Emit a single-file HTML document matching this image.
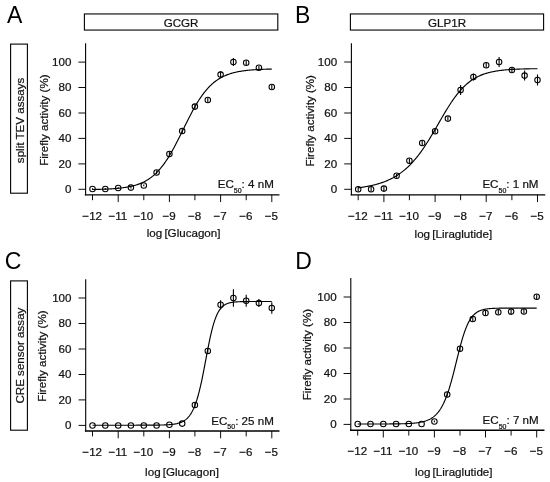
<!DOCTYPE html>
<html><head><meta charset="utf-8"><title>Figure</title>
<style>
html,body{margin:0;padding:0;background:#fff;}
svg{display:block;}
text{font-family:"Liberation Sans",Arial,Helvetica,sans-serif;fill:#111;stroke:#111;stroke-width:0.22;}
.t{font-size:11.6px;}
.pl{font-size:23px;fill:#000;stroke:none;}
.sub{font-size:7px;}
.ax{stroke:#000;stroke-width:1.1;fill:none;stroke-linecap:square;}
.tk{stroke:#000;stroke-width:0.95;fill:none;}
.cv{stroke:#000;stroke-width:1.15;fill:none;}
.pt{stroke:#000;stroke-width:1.05;fill:none;}
.eb{stroke:#000;stroke-width:1.1;fill:none;}
.bx{stroke:#000;stroke-width:1.1;fill:#fff;}
</style></head><body>

<svg width="550" height="482" viewBox="0 0 550 482">
<rect x="0" y="0" width="550" height="482" fill="#fff"/>
<text class="pl" x="6.9" y="23.0">A</text>
<text class="pl" x="295.1" y="23.1">B</text>
<text class="pl" x="4.8" y="268.8">C</text>
<text class="pl" x="295.2" y="268.8">D</text>
<rect class="bx" x="84.4" y="13.95" width="193.4" height="16.1"/>
<text class="t" x="181.1" y="27" text-anchor="middle">GCGR</text>
<rect class="bx" x="350.4" y="13.95" width="193.2" height="16.1"/>
<text class="t" x="447.0" y="27" text-anchor="middle">GLP1R</text>
<rect class="bx" x="10.6" y="44.1" width="16.8" height="149.1"/>
<text class="t" transform="translate(23.6,120.4) rotate(-90)" text-anchor="middle">split TEV assays</text>
<rect class="bx" x="10.6" y="280.9" width="16.8" height="149.3"/>
<text class="t" transform="translate(23.6,355.6) rotate(-90)" text-anchor="middle">CRE sensor assay</text>
<path class="ax" d="M85.60 43.70V194.80"/>
<path class="ax" style="stroke-width:1.35" d="M85.50 194.80H278.80"/>
<path class="tk" d="M78.4 189.3H85.6M78.4 163.9H85.6M78.4 138.4H85.6M78.4 113.0H85.6M78.4 87.5H85.6M78.4 62.1H85.6M92.5 194.8V200.2M118.2 194.8V202.1M143.8 194.8V200.2M169.4 194.8V202.1M194.9 194.8V200.2M220.6 194.8V202.1M246.2 194.8V200.2M271.8 194.8V202.1"/>
<text class="t" x="71.4" y="193.2" text-anchor="end">0</text>
<text class="t" x="71.4" y="167.8" text-anchor="end">20</text>
<text class="t" x="71.4" y="142.3" text-anchor="end">40</text>
<text class="t" x="71.4" y="116.9" text-anchor="end">60</text>
<text class="t" x="71.4" y="91.4" text-anchor="end">80</text>
<text class="t" x="71.4" y="66.0" text-anchor="end">100</text>
<text class="t" x="92.2" y="219.6" text-anchor="middle">−12</text>
<text class="t" x="117.9" y="219.6" text-anchor="middle">−11</text>
<text class="t" x="143.4" y="219.6" text-anchor="middle">−10</text>
<text class="t" x="169.1" y="219.6" text-anchor="middle">−9</text>
<text class="t" x="194.6" y="219.6" text-anchor="middle">−8</text>
<text class="t" x="220.2" y="219.6" text-anchor="middle">−7</text>
<text class="t" x="245.9" y="219.6" text-anchor="middle">−6</text>
<text class="t" x="271.4" y="219.6" text-anchor="middle">−5</text>
<text class="t" style="word-spacing:-1px" x="183.6" y="237.3" text-anchor="middle">log [Glucagon]</text>
<text class="t" transform="translate(48.2,120.1) rotate(-90)" text-anchor="middle">Firefly activity (%)</text>
<text class="t" x="273.8" y="188.4" text-anchor="end">EC<tspan class="sub" dy="4.3">50</tspan><tspan dy="-4.3">: 4 nM</tspan></text>
<path class="cv" d="M92.55 189.49 L93.19 189.48 L93.83 189.47 L94.47 189.45 L95.11 189.44 L95.75 189.43 L96.39 189.41 L97.03 189.40 L97.67 189.38 L98.31 189.37 L98.95 189.35 L99.59 189.33 L100.23 189.31 L100.87 189.29 L101.51 189.27 L102.15 189.25 L102.79 189.23 L103.43 189.21 L104.07 189.19 L104.71 189.16 L105.35 189.14 L105.99 189.11 L106.63 189.08 L107.27 189.05 L107.91 189.02 L108.55 188.99 L109.19 188.96 L109.83 188.92 L110.47 188.88 L111.11 188.85 L111.75 188.81 L112.39 188.76 L113.03 188.72 L113.67 188.68 L114.31 188.63 L114.95 188.58 L115.59 188.53 L116.23 188.48 L116.87 188.42 L117.51 188.36 L118.15 188.30 L118.79 188.24 L119.43 188.17 L120.07 188.10 L120.71 188.03 L121.35 187.95 L121.99 187.88 L122.63 187.79 L123.27 187.71 L123.91 187.62 L124.55 187.53 L125.19 187.43 L125.83 187.33 L126.47 187.22 L127.11 187.11 L127.75 187.00 L128.39 186.88 L129.03 186.76 L129.67 186.63 L130.31 186.49 L130.95 186.35 L131.59 186.20 L132.23 186.05 L132.87 185.89 L133.51 185.73 L134.15 185.55 L134.79 185.38 L135.43 185.19 L136.07 184.99 L136.71 184.79 L137.35 184.58 L137.99 184.36 L138.63 184.13 L139.27 183.89 L139.91 183.65 L140.55 183.39 L141.19 183.12 L141.83 182.85 L142.47 182.56 L143.11 182.26 L143.75 181.95 L144.39 181.62 L145.03 181.29 L145.67 180.94 L146.31 180.58 L146.95 180.20 L147.59 179.81 L148.23 179.41 L148.87 178.99 L149.51 178.56 L150.15 178.11 L150.79 177.65 L151.43 177.17 L152.07 176.67 L152.71 176.15 L153.35 175.62 L153.99 175.07 L154.63 174.50 L155.27 173.91 L155.91 173.31 L156.55 172.68 L157.19 172.04 L157.83 171.37 L158.47 170.68 L159.11 169.98 L159.75 169.25 L160.39 168.50 L161.03 167.73 L161.67 166.94 L162.31 166.13 L162.95 165.29 L163.59 164.44 L164.23 163.56 L164.87 162.66 L165.51 161.74 L166.15 160.80 L166.79 159.83 L167.43 158.85 L168.07 157.84 L168.71 156.82 L169.35 155.77 L169.99 154.70 L170.63 153.62 L171.27 152.51 L171.91 151.39 L172.55 150.25 L173.19 149.09 L173.83 147.92 L174.47 146.73 L175.11 145.52 L175.75 144.30 L176.39 143.07 L177.03 141.83 L177.67 140.58 L178.31 139.31 L178.95 138.04 L179.59 136.76 L180.23 135.47 L180.87 134.18 L181.51 132.88 L182.15 131.58 L182.79 130.27 L183.43 128.97 L184.07 127.67 L184.71 126.37 L185.35 125.07 L185.99 123.77 L186.63 122.48 L187.27 121.20 L187.91 119.93 L188.55 118.66 L189.19 117.40 L189.83 116.15 L190.47 114.92 L191.11 113.70 L191.75 112.49 L192.39 111.30 L193.03 110.12 L193.67 108.95 L194.31 107.81 L194.95 106.68 L195.59 105.57 L196.23 104.48 L196.87 103.40 L197.51 102.35 L198.15 101.32 L198.79 100.31 L199.43 99.31 L200.07 98.34 L200.71 97.39 L201.35 96.46 L201.99 95.56 L202.63 94.67 L203.27 93.81 L203.91 92.96 L204.55 92.14 L205.19 91.34 L205.83 90.56 L206.47 89.81 L207.11 89.07 L207.75 88.35 L208.39 87.66 L209.03 86.98 L209.67 86.33 L210.31 85.69 L210.95 85.08 L211.59 84.48 L212.23 83.90 L212.87 83.34 L213.51 82.80 L214.15 82.28 L214.79 81.77 L215.43 81.28 L216.07 80.81 L216.71 80.35 L217.35 79.90 L217.99 79.48 L218.63 79.07 L219.27 78.67 L219.91 78.28 L220.55 77.91 L221.19 77.56 L221.83 77.21 L222.47 76.88 L223.11 76.56 L223.75 76.25 L224.39 75.96 L225.03 75.67 L225.67 75.40 L226.31 75.13 L226.95 74.88 L227.59 74.63 L228.23 74.40 L228.87 74.17 L229.51 73.95 L230.15 73.74 L230.79 73.54 L231.43 73.35 L232.07 73.16 L232.71 72.98 L233.35 72.81 L233.99 72.64 L234.63 72.49 L235.27 72.33 L235.91 72.19 L236.55 72.05 L237.19 71.91 L237.83 71.78 L238.47 71.66 L239.11 71.54 L239.75 71.42 L240.39 71.31 L241.03 71.21 L241.67 71.10 L242.31 71.01 L242.95 70.91 L243.59 70.82 L244.23 70.74 L244.87 70.66 L245.51 70.58 L246.15 70.50 L246.79 70.43 L247.43 70.36 L248.07 70.29 L248.71 70.23 L249.35 70.17 L249.99 70.11 L250.63 70.05 L251.27 70.00 L251.91 69.94 L252.55 69.89 L253.19 69.85 L253.83 69.80 L254.47 69.76 L255.11 69.71 L255.75 69.67 L256.39 69.63 L257.03 69.60 L257.67 69.56 L258.31 69.53 L258.95 69.49 L259.59 69.46 L260.23 69.43 L260.87 69.40 L261.51 69.38 L262.15 69.35 L262.79 69.32 L263.43 69.30 L264.07 69.28 L264.71 69.25 L265.35 69.23 L265.99 69.21 L266.63 69.19 L267.27 69.17 L267.91 69.16 L268.55 69.14 L269.19 69.12 L269.83 69.11 L270.47 69.09 L271.11 69.08 L271.75 69.06"/>
<circle class="pt" cx="92.5" cy="189.0" r="2.75"/>
<path class="eb" d="M92.5 188.2V189.8"/>
<circle class="pt" cx="105.3" cy="189.0" r="2.75"/>
<path class="eb" d="M105.3 188.2V189.8"/>
<circle class="pt" cx="118.2" cy="188.0" r="2.75"/>
<path class="eb" d="M118.2 187.2V188.8"/>
<circle class="pt" cx="130.9" cy="187.6" r="2.75"/>
<path class="eb" d="M130.9 186.8V188.4"/>
<circle class="pt" cx="143.8" cy="185.4" r="2.75"/>
<path class="eb" d="M143.8 184.6V186.2"/>
<circle class="pt" cx="156.6" cy="172.4" r="2.75"/>
<path class="eb" d="M156.6 170.5V174.3"/>
<circle class="pt" cx="169.4" cy="154.0" r="2.75"/>
<path class="eb" d="M169.4 151.6V156.4"/>
<circle class="pt" cx="182.2" cy="131.0" r="2.75"/>
<path class="eb" d="M182.2 128.6V133.4"/>
<circle class="pt" cx="194.9" cy="106.6" r="2.75"/>
<path class="eb" d="M194.9 104.2V109.0"/>
<circle class="pt" cx="207.8" cy="100.0" r="2.75"/>
<path class="eb" d="M207.8 98.1V101.9"/>
<circle class="pt" cx="220.6" cy="74.6" r="2.75"/>
<path class="eb" d="M220.6 71.1V78.1"/>
<circle class="pt" cx="233.4" cy="62.0" r="2.75"/>
<path class="eb" d="M233.4 58.0V66.0"/>
<circle class="pt" cx="246.2" cy="62.8" r="2.75"/>
<path class="eb" d="M246.2 60.4V65.2"/>
<circle class="pt" cx="258.9" cy="67.8" r="2.75"/>
<path class="eb" d="M258.9 65.9V69.7"/>
<circle class="pt" cx="271.8" cy="87.0" r="2.75"/>
<path class="eb" d="M271.8 85.1V88.9"/>
<path class="ax" d="M351.40 43.70V194.80"/>
<path class="ax" style="stroke-width:1.35" d="M351.30 194.80H544.60"/>
<path class="tk" d="M344.2 189.3H351.4M344.2 163.9H351.4M344.2 138.4H351.4M344.2 113.0H351.4M344.2 87.5H351.4M344.2 62.0H351.4M358.2 194.8V200.2M383.9 194.8V202.1M409.4 194.8V200.2M435.1 194.8V202.1M460.6 194.8V200.2M486.2 194.8V202.1M511.9 194.8V200.2M537.5 194.8V202.1"/>
<text class="t" x="337.2" y="193.2" text-anchor="end">0</text>
<text class="t" x="337.2" y="167.8" text-anchor="end">20</text>
<text class="t" x="337.2" y="142.3" text-anchor="end">40</text>
<text class="t" x="337.2" y="116.9" text-anchor="end">60</text>
<text class="t" x="337.2" y="91.4" text-anchor="end">80</text>
<text class="t" x="337.2" y="66.0" text-anchor="end">100</text>
<text class="t" x="357.9" y="219.6" text-anchor="middle">−12</text>
<text class="t" x="383.6" y="219.6" text-anchor="middle">−11</text>
<text class="t" x="409.1" y="219.6" text-anchor="middle">−10</text>
<text class="t" x="434.8" y="219.6" text-anchor="middle">−9</text>
<text class="t" x="460.3" y="219.6" text-anchor="middle">−8</text>
<text class="t" x="485.9" y="219.6" text-anchor="middle">−7</text>
<text class="t" x="511.6" y="219.6" text-anchor="middle">−6</text>
<text class="t" x="537.2" y="219.6" text-anchor="middle">−5</text>
<text class="t" style="word-spacing:-1px" x="453.4" y="237.9" text-anchor="middle">log [Liraglutide]</text>
<text class="t" transform="translate(314.1,120.8) rotate(-90)" text-anchor="middle">Firefly activity (%)</text>
<text class="t" x="538.5" y="188.4" text-anchor="end">EC<tspan class="sub" dy="4.3">50</tspan><tspan dy="-4.3">: 1 nM</tspan></text>
<path class="cv" d="M358.25 187.83 L358.89 187.74 L359.53 187.66 L360.17 187.57 L360.81 187.48 L361.45 187.39 L362.09 187.29 L362.73 187.19 L363.37 187.09 L364.01 186.99 L364.65 186.88 L365.29 186.78 L365.93 186.66 L366.57 186.55 L367.21 186.43 L367.85 186.31 L368.49 186.18 L369.13 186.06 L369.77 185.92 L370.41 185.79 L371.05 185.65 L371.69 185.51 L372.33 185.36 L372.97 185.21 L373.61 185.06 L374.25 184.90 L374.89 184.73 L375.53 184.57 L376.17 184.39 L376.81 184.22 L377.45 184.04 L378.09 183.85 L378.73 183.66 L379.37 183.46 L380.01 183.26 L380.65 183.05 L381.29 182.84 L381.93 182.62 L382.57 182.40 L383.21 182.17 L383.85 181.93 L384.49 181.69 L385.13 181.44 L385.77 181.18 L386.41 180.92 L387.05 180.65 L387.69 180.38 L388.33 180.09 L388.97 179.80 L389.61 179.50 L390.25 179.20 L390.89 178.88 L391.53 178.56 L392.17 178.23 L392.81 177.89 L393.45 177.55 L394.09 177.19 L394.73 176.82 L395.37 176.45 L396.01 176.07 L396.65 175.67 L397.29 175.27 L397.93 174.85 L398.57 174.43 L399.21 174.00 L399.85 173.55 L400.49 173.10 L401.13 172.63 L401.77 172.15 L402.41 171.66 L403.05 171.16 L403.69 170.65 L404.33 170.13 L404.97 169.59 L405.61 169.04 L406.25 168.48 L406.89 167.91 L407.53 167.32 L408.17 166.72 L408.81 166.11 L409.45 165.48 L410.09 164.84 L410.73 164.19 L411.37 163.52 L412.01 162.84 L412.65 162.14 L413.29 161.43 L413.93 160.71 L414.57 159.97 L415.21 159.22 L415.85 158.46 L416.49 157.67 L417.13 156.88 L417.77 156.07 L418.41 155.25 L419.05 154.41 L419.69 153.56 L420.33 152.69 L420.97 151.82 L421.61 150.92 L422.25 150.02 L422.89 149.10 L423.53 148.16 L424.17 147.22 L424.81 146.26 L425.45 145.29 L426.09 144.30 L426.73 143.31 L427.37 142.30 L428.01 141.29 L428.65 140.26 L429.29 139.22 L429.93 138.17 L430.57 137.12 L431.21 136.05 L431.85 134.98 L432.49 133.90 L433.13 132.82 L433.77 131.73 L434.41 130.63 L435.05 129.53 L435.69 128.42 L436.33 127.32 L436.97 126.20 L437.61 125.09 L438.25 123.98 L438.89 122.87 L439.53 121.75 L440.17 120.64 L440.81 119.54 L441.45 118.43 L442.09 117.33 L442.73 116.23 L443.37 115.14 L444.01 114.06 L444.65 112.98 L445.29 111.91 L445.93 110.85 L446.57 109.80 L447.21 108.75 L447.85 107.72 L448.49 106.70 L449.13 105.69 L449.77 104.70 L450.41 103.71 L451.05 102.74 L451.69 101.79 L452.33 100.85 L452.97 99.92 L453.61 99.01 L454.25 98.12 L454.89 97.24 L455.53 96.37 L456.17 95.53 L456.81 94.70 L457.45 93.89 L458.09 93.09 L458.73 92.31 L459.37 91.55 L460.01 90.81 L460.65 90.08 L461.29 89.38 L461.93 88.69 L462.57 88.01 L463.21 87.36 L463.85 86.72 L464.49 86.09 L465.13 85.49 L465.77 84.90 L466.41 84.33 L467.05 83.77 L467.69 83.23 L468.33 82.71 L468.97 82.20 L469.61 81.71 L470.25 81.23 L470.89 80.77 L471.53 80.32 L472.17 79.89 L472.81 79.47 L473.45 79.06 L474.09 78.67 L474.73 78.29 L475.37 77.92 L476.01 77.57 L476.65 77.22 L477.29 76.89 L477.93 76.57 L478.57 76.27 L479.21 75.97 L479.85 75.68 L480.49 75.40 L481.13 75.14 L481.77 74.88 L482.41 74.63 L483.05 74.39 L483.69 74.16 L484.33 73.94 L484.97 73.73 L485.61 73.52 L486.25 73.33 L486.89 73.13 L487.53 72.95 L488.17 72.78 L488.81 72.61 L489.45 72.44 L490.09 72.29 L490.73 72.14 L491.37 71.99 L492.01 71.85 L492.65 71.72 L493.29 71.59 L493.93 71.46 L494.57 71.35 L495.21 71.23 L495.85 71.12 L496.49 71.02 L497.13 70.91 L497.77 70.82 L498.41 70.72 L499.05 70.63 L499.69 70.55 L500.33 70.47 L500.97 70.39 L501.61 70.31 L502.25 70.24 L502.89 70.17 L503.53 70.10 L504.17 70.03 L504.81 69.97 L505.45 69.91 L506.09 69.86 L506.73 69.80 L507.37 69.75 L508.01 69.70 L508.65 69.65 L509.29 69.60 L509.93 69.56 L510.57 69.52 L511.21 69.47 L511.85 69.44 L512.49 69.40 L513.13 69.36 L513.77 69.33 L514.41 69.29 L515.05 69.26 L515.69 69.23 L516.33 69.20 L516.97 69.17 L517.61 69.15 L518.25 69.12 L518.89 69.10 L519.53 69.07 L520.17 69.05 L520.81 69.03 L521.45 69.01 L522.09 68.99 L522.73 68.97 L523.37 68.95 L524.01 68.93 L524.65 68.91 L525.29 68.90 L525.93 68.88 L526.57 68.87 L527.21 68.85 L527.85 68.84 L528.49 68.83 L529.13 68.81 L529.77 68.80 L530.41 68.79 L531.05 68.78 L531.69 68.77 L532.33 68.76 L532.97 68.75 L533.61 68.74 L534.25 68.73 L534.89 68.72 L535.53 68.71 L536.17 68.70 L536.81 68.70 L537.45 68.69"/>
<circle class="pt" cx="358.2" cy="189.2" r="2.75"/>
<path class="eb" d="M358.2 186.8V191.6"/>
<circle class="pt" cx="371.1" cy="189.2" r="2.75"/>
<path class="eb" d="M371.1 186.8V191.6"/>
<circle class="pt" cx="383.9" cy="188.6" r="2.75"/>
<path class="eb" d="M383.9 186.2V191.0"/>
<circle class="pt" cx="396.6" cy="175.8" r="2.75"/>
<path class="eb" d="M396.6 173.9V177.7"/>
<circle class="pt" cx="409.4" cy="160.8" r="2.75"/>
<path class="eb" d="M409.4 158.4V163.2"/>
<circle class="pt" cx="422.2" cy="143.0" r="2.75"/>
<path class="eb" d="M422.2 140.6V145.4"/>
<circle class="pt" cx="435.1" cy="131.2" r="2.75"/>
<path class="eb" d="M435.1 128.8V133.6"/>
<circle class="pt" cx="447.9" cy="118.6" r="2.75"/>
<path class="eb" d="M447.9 116.7V120.5"/>
<circle class="pt" cx="460.6" cy="90.0" r="2.75"/>
<path class="eb" d="M460.6 85.0V95.0"/>
<circle class="pt" cx="473.4" cy="77.0" r="2.75"/>
<path class="eb" d="M473.4 73.5V80.5"/>
<circle class="pt" cx="486.2" cy="65.2" r="2.75"/>
<path class="eb" d="M486.2 62.8V67.6"/>
<circle class="pt" cx="499.1" cy="62.0" r="2.75"/>
<path class="eb" d="M499.1 57.0V67.0"/>
<circle class="pt" cx="511.9" cy="70.0" r="2.75"/>
<path class="eb" d="M511.9 67.6V72.4"/>
<circle class="pt" cx="524.6" cy="75.6" r="2.75"/>
<path class="eb" d="M524.6 70.6V80.6"/>
<circle class="pt" cx="537.5" cy="80.0" r="2.75"/>
<path class="eb" d="M537.5 74.5V85.5"/>
<path class="ax" d="M85.70 279.70V431.00"/>
<path class="ax" style="stroke-width:1.35" d="M85.60 431.00H278.80"/>
<path class="tk" d="M78.5 425.4H85.7M78.5 399.9H85.7M78.5 374.5H85.7M78.5 349.0H85.7M78.5 323.5H85.7M78.5 298.0H85.7M92.5 431.0V436.4M118.2 431.0V438.3M143.8 431.0V436.4M169.4 431.0V438.3M194.9 431.0V436.4M220.6 431.0V438.3M246.2 431.0V436.4M271.8 431.0V438.3"/>
<text class="t" x="71.5" y="429.3" text-anchor="end">0</text>
<text class="t" x="71.5" y="403.8" text-anchor="end">20</text>
<text class="t" x="71.5" y="378.4" text-anchor="end">40</text>
<text class="t" x="71.5" y="352.9" text-anchor="end">60</text>
<text class="t" x="71.5" y="327.4" text-anchor="end">80</text>
<text class="t" x="71.5" y="301.9" text-anchor="end">100</text>
<text class="t" x="92.2" y="455.8" text-anchor="middle">−12</text>
<text class="t" x="117.9" y="455.8" text-anchor="middle">−11</text>
<text class="t" x="143.4" y="455.8" text-anchor="middle">−10</text>
<text class="t" x="169.1" y="455.8" text-anchor="middle">−9</text>
<text class="t" x="194.6" y="455.8" text-anchor="middle">−8</text>
<text class="t" x="220.2" y="455.8" text-anchor="middle">−7</text>
<text class="t" x="245.9" y="455.8" text-anchor="middle">−6</text>
<text class="t" x="271.4" y="455.8" text-anchor="middle">−5</text>
<text class="t" style="word-spacing:-1px" x="182.0" y="476.1" text-anchor="middle">log [Glucagon]</text>
<text class="t" transform="translate(45.8,356.1) rotate(-90)" text-anchor="middle">Firefly activity (%)</text>
<text class="t" x="273.8" y="424.6" text-anchor="end">EC<tspan class="sub" dy="4.3">50</tspan><tspan dy="-4.3">: 25 nM</tspan></text>
<path class="cv" d="M92.55 425.20 L93.19 425.20 L93.83 425.20 L94.47 425.20 L95.11 425.20 L95.75 425.20 L96.39 425.20 L97.03 425.20 L97.67 425.20 L98.31 425.20 L98.95 425.20 L99.59 425.20 L100.23 425.20 L100.87 425.20 L101.51 425.20 L102.15 425.20 L102.79 425.20 L103.43 425.20 L104.07 425.20 L104.71 425.20 L105.35 425.20 L105.99 425.20 L106.63 425.20 L107.27 425.20 L107.91 425.20 L108.55 425.20 L109.19 425.20 L109.83 425.20 L110.47 425.20 L111.11 425.20 L111.75 425.20 L112.39 425.20 L113.03 425.20 L113.67 425.20 L114.31 425.20 L114.95 425.20 L115.59 425.20 L116.23 425.20 L116.87 425.20 L117.51 425.20 L118.15 425.20 L118.79 425.20 L119.43 425.20 L120.07 425.20 L120.71 425.20 L121.35 425.20 L121.99 425.20 L122.63 425.20 L123.27 425.20 L123.91 425.20 L124.55 425.20 L125.19 425.20 L125.83 425.20 L126.47 425.20 L127.11 425.20 L127.75 425.20 L128.39 425.20 L129.03 425.20 L129.67 425.20 L130.31 425.20 L130.95 425.20 L131.59 425.20 L132.23 425.20 L132.87 425.20 L133.51 425.20 L134.15 425.20 L134.79 425.20 L135.43 425.20 L136.07 425.20 L136.71 425.19 L137.35 425.19 L137.99 425.19 L138.63 425.19 L139.27 425.19 L139.91 425.19 L140.55 425.19 L141.19 425.19 L141.83 425.19 L142.47 425.19 L143.11 425.19 L143.75 425.19 L144.39 425.18 L145.03 425.18 L145.67 425.18 L146.31 425.18 L146.95 425.18 L147.59 425.18 L148.23 425.17 L148.87 425.17 L149.51 425.17 L150.15 425.17 L150.79 425.16 L151.43 425.16 L152.07 425.15 L152.71 425.15 L153.35 425.14 L153.99 425.14 L154.63 425.13 L155.27 425.13 L155.91 425.12 L156.55 425.11 L157.19 425.10 L157.83 425.10 L158.47 425.09 L159.11 425.07 L159.75 425.06 L160.39 425.05 L161.03 425.03 L161.67 425.02 L162.31 425.00 L162.95 424.98 L163.59 424.96 L164.23 424.94 L164.87 424.91 L165.51 424.89 L166.15 424.85 L166.79 424.82 L167.43 424.79 L168.07 424.75 L168.71 424.70 L169.35 424.65 L169.99 424.60 L170.63 424.55 L171.27 424.48 L171.91 424.41 L172.55 424.34 L173.19 424.26 L173.83 424.17 L174.47 424.07 L175.11 423.96 L175.75 423.84 L176.39 423.71 L177.03 423.57 L177.67 423.41 L178.31 423.24 L178.95 423.05 L179.59 422.85 L180.23 422.62 L180.87 422.38 L181.51 422.11 L182.15 421.81 L182.79 421.49 L183.43 421.14 L184.07 420.75 L184.71 420.33 L185.35 419.87 L185.99 419.37 L186.63 418.82 L187.27 418.22 L187.91 417.57 L188.55 416.86 L189.19 416.08 L189.83 415.24 L190.47 414.32 L191.11 413.33 L191.75 412.24 L192.39 411.07 L193.03 409.80 L193.67 408.43 L194.31 406.95 L194.95 405.35 L195.59 403.63 L196.23 401.79 L196.87 399.82 L197.51 397.72 L198.15 395.48 L198.79 393.10 L199.43 390.59 L200.07 387.94 L200.71 385.17 L201.35 382.27 L201.99 379.26 L202.63 376.14 L203.27 372.93 L203.91 369.64 L204.55 366.30 L205.19 362.92 L205.83 359.52 L206.47 356.12 L207.11 352.74 L207.75 349.41 L208.39 346.14 L209.03 342.96 L209.67 339.88 L210.31 336.91 L210.95 334.08 L211.59 331.38 L212.23 328.83 L212.87 326.43 L213.51 324.19 L214.15 322.09 L214.79 320.16 L215.43 318.36 L216.07 316.72 L216.71 315.20 L217.35 313.82 L217.99 312.57 L218.63 311.42 L219.27 310.39 L219.91 309.45 L220.55 308.61 L221.19 307.85 L221.83 307.16 L222.47 306.55 L223.11 306.00 L223.75 305.51 L224.39 305.07 L225.03 304.67 L225.67 304.32 L226.31 304.01 L226.95 303.73 L227.59 303.48 L228.23 303.26 L228.87 303.06 L229.51 302.89 L230.15 302.73 L230.79 302.59 L231.43 302.47 L232.07 302.36 L232.71 302.26 L233.35 302.18 L233.99 302.10 L234.63 302.03 L235.27 301.97 L235.91 301.92 L236.55 301.87 L237.19 301.83 L237.83 301.79 L238.47 301.76 L239.11 301.73 L239.75 301.71 L240.39 301.68 L241.03 301.66 L241.67 301.64 L242.31 301.63 L242.95 301.61 L243.59 301.60 L244.23 301.59 L244.87 301.58 L245.51 301.57 L246.15 301.56 L246.79 301.56 L247.43 301.55 L248.07 301.54 L248.71 301.54 L249.35 301.54 L249.99 301.53 L250.63 301.53 L251.27 301.53 L251.91 301.52 L252.55 301.52 L253.19 301.52 L253.83 301.52 L254.47 301.51 L255.11 301.51 L255.75 301.51 L256.39 301.51 L257.03 301.51 L257.67 301.51 L258.31 301.51 L258.95 301.51 L259.59 301.51 L260.23 301.51 L260.87 301.51 L261.51 301.51 L262.15 301.50 L262.79 301.50 L263.43 301.50 L264.07 301.50 L264.71 301.50 L265.35 301.50 L265.99 301.50 L266.63 301.50 L267.27 301.50 L267.91 301.50 L268.55 301.50 L269.19 301.50 L269.83 301.50 L270.47 301.50 L271.11 301.50 L271.75 301.50"/>
<circle class="pt" cx="92.5" cy="425.4" r="2.75"/>
<circle class="pt" cx="105.3" cy="425.4" r="2.75"/>
<circle class="pt" cx="118.2" cy="425.4" r="2.75"/>
<circle class="pt" cx="130.9" cy="425.4" r="2.75"/>
<circle class="pt" cx="143.8" cy="425.4" r="2.75"/>
<circle class="pt" cx="156.6" cy="425.4" r="2.75"/>
<circle class="pt" cx="169.4" cy="424.8" r="2.75"/>
<circle class="pt" cx="182.2" cy="423.6" r="2.75"/>
<circle class="pt" cx="194.9" cy="405.0" r="2.75"/>
<path class="eb" d="M194.9 402.6V407.4"/>
<circle class="pt" cx="207.8" cy="351.0" r="2.75"/>
<path class="eb" d="M207.8 348.6V353.4"/>
<circle class="pt" cx="220.6" cy="304.8" r="2.75"/>
<path class="eb" d="M220.6 300.3V309.3"/>
<circle class="pt" cx="233.4" cy="298.0" r="2.75"/>
<path class="eb" d="M233.4 289.3V306.7"/>
<circle class="pt" cx="246.2" cy="300.8" r="2.75"/>
<path class="eb" d="M246.2 294.8V306.8"/>
<circle class="pt" cx="258.9" cy="303.0" r="2.75"/>
<path class="eb" d="M258.9 299.0V307.0"/>
<circle class="pt" cx="271.8" cy="308.0" r="2.75"/>
<path class="eb" d="M271.8 302.2V313.8"/>
<path class="ax" d="M350.80 278.60V430.20"/>
<path class="ax" style="stroke-width:1.35" d="M350.70 430.20H543.80"/>
<path class="tk" d="M343.6 424.4H350.8M343.6 399.0H350.8M343.6 373.5H350.8M343.6 348.0H350.8M343.6 322.5H350.8M343.6 297.0H350.8M357.7 430.2V435.6M383.3 430.2V437.5M408.8 430.2V435.6M434.4 430.2V437.5M460.0 430.2V435.6M485.5 430.2V437.5M511.1 430.2V435.6M536.7 430.2V437.5"/>
<text class="t" x="336.6" y="428.3" text-anchor="end">0</text>
<text class="t" x="336.6" y="402.9" text-anchor="end">20</text>
<text class="t" x="336.6" y="377.4" text-anchor="end">40</text>
<text class="t" x="336.6" y="351.9" text-anchor="end">60</text>
<text class="t" x="336.6" y="326.4" text-anchor="end">80</text>
<text class="t" x="336.6" y="300.9" text-anchor="end">100</text>
<text class="t" x="357.4" y="455.0" text-anchor="middle">−12</text>
<text class="t" x="383.0" y="455.0" text-anchor="middle">−11</text>
<text class="t" x="408.5" y="455.0" text-anchor="middle">−10</text>
<text class="t" x="434.1" y="455.0" text-anchor="middle">−9</text>
<text class="t" x="459.7" y="455.0" text-anchor="middle">−8</text>
<text class="t" x="485.2" y="455.0" text-anchor="middle">−7</text>
<text class="t" x="510.8" y="455.0" text-anchor="middle">−6</text>
<text class="t" x="536.4" y="455.0" text-anchor="middle">−5</text>
<text class="t" style="word-spacing:-1px" x="453.7" y="475.5" text-anchor="middle">log [Liraglutide]</text>
<text class="t" transform="translate(311.0,354.6) rotate(-90)" text-anchor="middle">Firefly activity (%)</text>
<text class="t" x="538.7" y="424.4" text-anchor="end">EC<tspan class="sub" dy="4.3">50</tspan><tspan dy="-4.3">: 7 nM</tspan></text>
<path class="cv" d="M357.70 424.00 L358.34 424.00 L358.98 424.00 L359.62 424.00 L360.26 424.00 L360.90 424.00 L361.54 424.00 L362.17 424.00 L362.81 424.00 L363.45 424.00 L364.09 424.00 L364.73 424.00 L365.37 424.00 L366.01 424.00 L366.65 424.00 L367.29 423.99 L367.93 423.99 L368.57 423.99 L369.21 423.99 L369.85 423.99 L370.49 423.99 L371.12 423.99 L371.76 423.99 L372.40 423.99 L373.04 423.99 L373.68 423.99 L374.32 423.99 L374.96 423.99 L375.60 423.99 L376.24 423.99 L376.88 423.99 L377.52 423.98 L378.16 423.98 L378.80 423.98 L379.43 423.98 L380.07 423.98 L380.71 423.98 L381.35 423.98 L381.99 423.97 L382.63 423.97 L383.27 423.97 L383.91 423.97 L384.55 423.97 L385.19 423.96 L385.83 423.96 L386.47 423.96 L387.11 423.96 L387.74 423.95 L388.38 423.95 L389.02 423.95 L389.66 423.94 L390.30 423.94 L390.94 423.93 L391.58 423.93 L392.22 423.92 L392.86 423.92 L393.50 423.91 L394.14 423.90 L394.78 423.90 L395.42 423.89 L396.06 423.88 L396.69 423.87 L397.33 423.86 L397.97 423.85 L398.61 423.84 L399.25 423.83 L399.89 423.82 L400.53 423.81 L401.17 423.79 L401.81 423.78 L402.45 423.76 L403.09 423.74 L403.73 423.73 L404.37 423.71 L405.00 423.68 L405.64 423.66 L406.28 423.64 L406.92 423.61 L407.56 423.58 L408.20 423.55 L408.84 423.52 L409.48 423.48 L410.12 423.45 L410.76 423.41 L411.40 423.36 L412.04 423.32 L412.68 423.27 L413.31 423.21 L413.95 423.15 L414.59 423.09 L415.23 423.03 L415.87 422.96 L416.51 422.88 L417.15 422.80 L417.79 422.71 L418.43 422.62 L419.07 422.52 L419.71 422.41 L420.35 422.30 L420.99 422.17 L421.62 422.04 L422.26 421.90 L422.90 421.74 L423.54 421.58 L424.18 421.41 L424.82 421.22 L425.46 421.02 L426.10 420.80 L426.74 420.57 L427.38 420.32 L428.02 420.05 L428.66 419.77 L429.30 419.46 L429.94 419.14 L430.57 418.79 L431.21 418.41 L431.85 418.01 L432.49 417.58 L433.13 417.12 L433.77 416.63 L434.41 416.11 L435.05 415.55 L435.69 414.95 L436.33 414.30 L436.97 413.62 L437.61 412.89 L438.25 412.11 L438.88 411.28 L439.52 410.40 L440.16 409.45 L440.80 408.45 L441.44 407.39 L442.08 406.26 L442.72 405.06 L443.36 403.79 L444.00 402.44 L444.64 401.02 L445.28 399.53 L445.92 397.95 L446.56 396.29 L447.19 394.54 L447.83 392.72 L448.47 390.81 L449.11 388.82 L449.75 386.74 L450.39 384.59 L451.03 382.37 L451.67 380.07 L452.31 377.71 L452.95 375.29 L453.59 372.82 L454.23 370.30 L454.87 367.75 L455.51 365.18 L456.14 362.59 L456.78 359.99 L457.42 357.40 L458.06 354.83 L458.70 352.28 L459.34 349.78 L459.98 347.33 L460.62 344.93 L461.26 342.60 L461.90 340.35 L462.54 338.18 L463.18 336.09 L463.82 334.10 L464.45 332.20 L465.09 330.40 L465.73 328.69 L466.37 327.09 L467.01 325.58 L467.65 324.16 L468.29 322.84 L468.93 321.61 L469.57 320.47 L470.21 319.41 L470.85 318.43 L471.49 317.53 L472.13 316.69 L472.76 315.92 L473.40 315.22 L474.04 314.57 L474.68 313.98 L475.32 313.44 L475.96 312.95 L476.60 312.49 L477.24 312.08 L477.88 311.71 L478.52 311.37 L479.16 311.06 L479.80 310.77 L480.44 310.52 L481.08 310.28 L481.71 310.07 L482.35 309.88 L482.99 309.71 L483.63 309.55 L484.27 309.41 L484.91 309.28 L485.55 309.16 L486.19 309.05 L486.83 308.96 L487.47 308.87 L488.11 308.79 L488.75 308.72 L489.39 308.65 L490.02 308.60 L490.66 308.54 L491.30 308.50 L491.94 308.45 L492.58 308.41 L493.22 308.38 L493.86 308.35 L494.50 308.32 L495.14 308.29 L495.78 308.27 L496.42 308.25 L497.06 308.23 L497.70 308.21 L498.33 308.20 L498.97 308.18 L499.61 308.17 L500.25 308.16 L500.89 308.15 L501.53 308.14 L502.17 308.13 L502.81 308.12 L503.45 308.11 L504.09 308.11 L504.73 308.10 L505.37 308.10 L506.01 308.09 L506.65 308.09 L507.28 308.08 L507.92 308.08 L508.56 308.08 L509.20 308.08 L509.84 308.07 L510.48 308.07 L511.12 308.07 L511.76 308.07 L512.40 308.06 L513.04 308.06 L513.68 308.06 L514.32 308.06 L514.96 308.06 L515.59 308.06 L516.23 308.06 L516.87 308.06 L517.51 308.06 L518.15 308.06 L518.79 308.05 L519.43 308.05 L520.07 308.05 L520.71 308.05 L521.35 308.05 L521.99 308.05 L522.63 308.05 L523.27 308.05 L523.90 308.05 L524.54 308.05 L525.18 308.05 L525.82 308.05 L526.46 308.05 L527.10 308.05 L527.74 308.05 L528.38 308.05 L529.02 308.05 L529.66 308.05 L530.30 308.05 L530.94 308.05 L531.58 308.05 L532.22 308.05 L532.85 308.05 L533.49 308.05 L534.13 308.05 L534.77 308.05 L535.41 308.05 L536.05 308.05 L536.69 308.05"/>
<circle class="pt" cx="357.7" cy="424.0" r="2.75"/>
<circle class="pt" cx="370.5" cy="424.0" r="2.75"/>
<circle class="pt" cx="383.3" cy="424.0" r="2.75"/>
<circle class="pt" cx="396.1" cy="424.0" r="2.75"/>
<circle class="pt" cx="408.8" cy="424.0" r="2.75"/>
<circle class="pt" cx="421.6" cy="424.0" r="2.75"/>
<circle class="pt" cx="434.4" cy="421.4" r="2.75"/>
<path class="eb" d="M434.4 420.6V422.2"/>
<circle class="pt" cx="447.2" cy="394.4" r="2.75"/>
<path class="eb" d="M447.2 392.0V396.8"/>
<circle class="pt" cx="460.0" cy="348.8" r="2.75"/>
<path class="eb" d="M460.0 346.4V351.2"/>
<circle class="pt" cx="472.8" cy="319.0" r="2.75"/>
<path class="eb" d="M472.8 316.6V321.4"/>
<circle class="pt" cx="485.5" cy="313.0" r="2.75"/>
<path class="eb" d="M485.5 310.6V315.4"/>
<circle class="pt" cx="498.3" cy="312.2" r="2.75"/>
<path class="eb" d="M498.3 309.8V314.6"/>
<circle class="pt" cx="511.1" cy="311.6" r="2.75"/>
<path class="eb" d="M511.1 309.2V314.0"/>
<circle class="pt" cx="523.9" cy="311.4" r="2.75"/>
<path class="eb" d="M523.9 309.0V313.8"/>
<circle class="pt" cx="536.7" cy="296.8" r="2.75"/>
<path class="eb" d="M536.7 294.4V299.2"/>
</svg>
</body></html>
